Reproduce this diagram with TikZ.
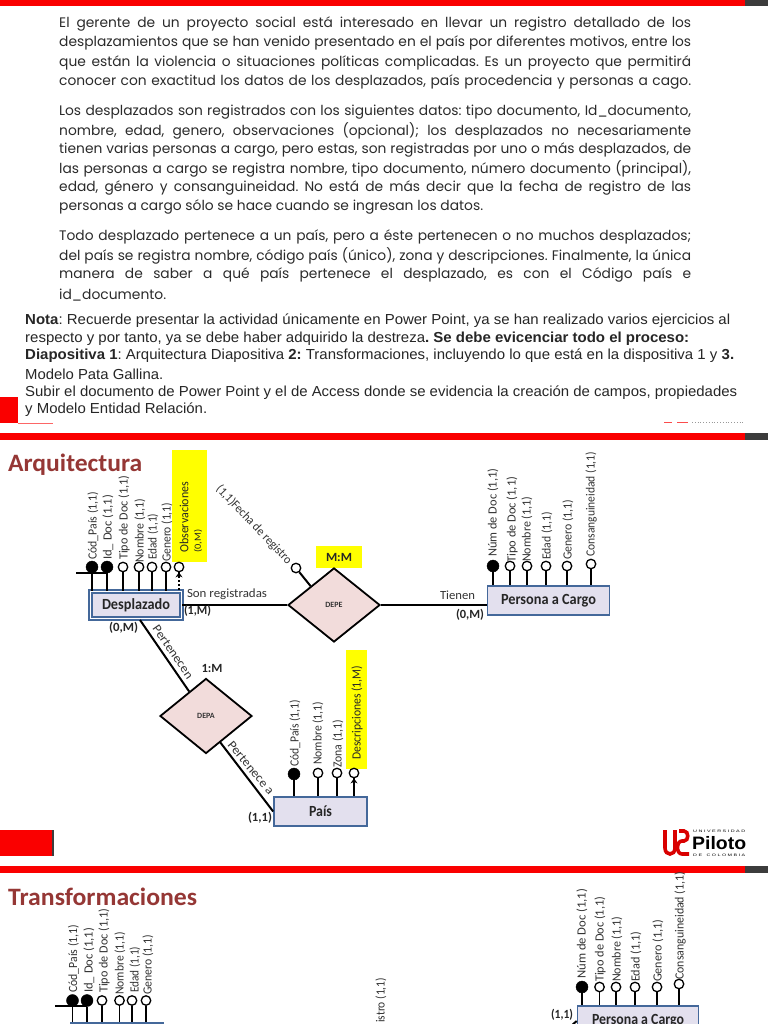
\documentclass[tikz,border=0pt]{standalone}
\usepackage{graphicx}
\usepackage{fontspec}
\setmainfont{Carlito}
\newfontfamily\gothicf{Poppins}
\newfontfamily\arialf{Liberation Sans}
\usetikzlibrary{shapes.geometric,arrows.meta}
\definecolor{barred}{HTML}{FA0000}
\definecolor{bardark}{HTML}{3C3C3C}
\definecolor{ink}{HTML}{2B2B2B}
\definecolor{title}{HTML}{953735}
\definecolor{boxfill}{HTML}{E3E0EE}
\definecolor{boxline}{HTML}{44689A}
\definecolor{rel}{HTML}{F2DCDB}
\definecolor{yel}{HTML}{FFFF00}
\newcommand\fitw[2]{\resizebox{#1pt}{\height}{#2}}
\newsavebox\lbox
\newcommand\jl[1]{\sbox\lbox{#1}\ifdim\wd\lbox>632pt \resizebox{632pt}{\height}{\usebox\lbox}\else\makebox[632pt][s]{#1}\fi}
\tikzset{
  barfill/.style={fill=barred,draw=none},
  bardk/.style={fill=bardark,draw=none},
  para/.style={anchor=west,inner sep=0pt,font=\gothicf\fontsize{13.8}{15}\selectfont\frenchspacing,text=ink},
  notaline/.style={anchor=west,inner sep=0pt,font=\arialf\fontsize{14.5}{16}\selectfont\frenchspacing,text=black!85},
  slidetitle/.style={anchor=west,inner sep=0pt,font=\bfseries\fontsize{25}{28}\selectfont,text=title},
  lab/.style={rotate=90,anchor=west,inner sep=0pt,font=\fontsize{12.5}{14}\selectfont,text=black!80},
  opn/.style={circle,draw=black,fill=white,line width=1.3pt,minimum size=9.5pt,inner sep=0pt},
  key/.style={circle,draw=black,fill=black,minimum size=12pt,inner sep=0pt},
  stem/.style={line width=1.9pt,black},
  conn/.style={line width=2pt,black},
  ent/.style={rectangle,draw=boxline,fill=boxfill,line width=1.6pt,inner sep=0pt,font=\bfseries\fontsize{15.5}{17}\selectfont,text=black!85},
  entd/.style={ent,line width=1.7pt,double=white,double distance=1pt},
  relat/.style={diamond,draw=black,fill=rel,line width=1.8pt,inner sep=0pt,aspect=1.24,font=\bfseries\fontsize{8}{9}\selectfont,text=black!80},
  card/.style={inner sep=0pt,font=\bfseries\fontsize{12.5}{14}\selectfont,text=black!85},
  verb/.style={inner sep=0pt,font=\fontsize{12.5}{14}\selectfont,text=black!80},
  logoink/.style={red!85!black,line width=3.6pt},
  tiptop/.style={{Stealth[length=5pt,width=7pt]}-,line width=1.2pt,black},
}
\begin{document}
\begin{tikzpicture}[x=1pt,y=-1pt]
\useasboundingbox (0,0) rectangle (768,1024);
\fill[white] (0,0) rectangle (768,1024);
\clip (0,0) rectangle (768,1024);

% bars
\fill[barfill] (0,0) rectangle (745,6.5);
\fill[bardk] (745,0) rectangle (768,6.5);
\fill[barfill] (0,433) rectangle (745,439.5);
\fill[bardk] (745,433) rectangle (768,439.5);
\fill[barfill] (0,866) rectangle (745,872.5);
\fill[bardk] (745,866) rectangle (768,872.5);
\fill[barfill] (0,397) rectangle (18,423);
\draw[barred!60,line width=.6pt] (18,423) -- (53,423);
\draw[barred!70,line width=1pt] (664,422) -- (672,422) (677,422) -- (688,422);
\draw[black!40,line width=.8pt,dotted] (692,422) -- (745,422);
\fill[barfill] (0,830) rectangle (52,856);
\fill[bardk] (52,830) rectangle (54,856);

% statement
\node[para] (p1) at (59,24) {\jl{El gerente de un proyecto social está interesado en llevar un registro detallado de los}};
\node[para] (p2) at (59,43) {\jl{desplazamientos que se han venido presentado en el país por diferentes motivos, entre los}};
\node[para] (p3) at (59,63) {\jl{que están la violencia o situaciones políticas complicadas. Es un proyecto que permitirá}};
\node[para] (p4) at (59,82) {\jl{conocer con exactitud los datos de los desplazados, país procedencia y personas a cago.}};
\node[para] (p5) at (59,112) {\jl{Los desplazados son registrados con los siguientes datos: tipo documento, Id\_documento,}};
\node[para] (p6) at (59,131) {\jl{nombre, edad, genero, observaciones (opcional); los desplazados no necesariamente}};
\node[para] (p7) at (59,150) {\jl{tienen varias personas a cargo, pero estas, son registradas por uno o más desplazados, de}};
\node[para] (p8) at (59,169) {\jl{las personas a cargo se registra nombre, tipo documento, número documento (principal),}};
\node[para] (p9) at (59,188) {\jl{edad, género y consanguineidad. No está de más decir que la fecha de registro de las}};
\node[para] (p10) at (59,207) {\fitw{424}{personas a cargo sólo se hace cuando se ingresan los datos.}};
\node[para] (p11) at (59,237) {\jl{Todo desplazado pertenece a un país, pero a éste pertenecen o no muchos desplazados;}};
\node[para] (p12) at (59,256) {\jl{del país se registra nombre, código país (único), zona y descripciones. Finalmente, la única}};
\node[para] (p13) at (59,275) {\jl{manera de saber a qué país pertenece el desplazado, es con el Código país e}};
\node[para] (p14) at (59,295) {\fitw{107}{id\_documento.}};

\node[notaline] (n1) at (25,321) {\fitw{705}{\textbf{Nota}: Recuerde presentar la actividad únicamente en Power Point, ya se han realizado varios ejercicios al}};
\node[notaline] (n2) at (25,338.5) {\fitw{664}{respecto y por tanto, ya se debe haber adquirido la destreza\textbf{. Se debe evicenciar todo el proceso:}}};
\node[notaline] (n3) at (25,356) {\fitw{709}{\textbf{Diapositiva 1}: Arquitectura Diapositiva \textbf{2:} Transformaciones, incluyendo lo que está en la dispositiva 1 y \textbf{3.}}};
\node[notaline] (n4) at (25,374) {\fitw{138}{Modelo Pata Gallina.}};
\node[notaline] (n5) at (25,393) {\fitw{712}{Subir el documento de Power Point y el de Access donde se evidencia la creación de campos, propiedades}};
\node[notaline] (n6) at (25,410) {\fitw{182}{y Modelo Entidad Relación.}};

% ---------- Arquitectura
\node[slidetitle] (t1) at (8,465) {\fitw{134}{Arquitectura}};

\fill[yel] (172,450) rectangle (207,562);
\fill[yel] (316,546) rectangle (362,568);
\fill[yel] (346,650) rectangle (367,769);

\node[entd,minimum width=91pt,minimum height=27pt] (desp) at (136,605) {\fitw{68}{Desplazado}};
\node[ent,minimum width=122pt,minimum height=29pt] (per) at (548.5,600.5) {\fitw{95}{Persona a Cargo}};
\node[ent,minimum width=93pt,minimum height=29pt] (pais) at (320.5,811.5) {\fitw{23}{País}};
\node[relat,minimum width=92pt,minimum height=74pt] (depe) at (334,605) {DEPE};
\node[relat,minimum width=92pt,minimum height=75pt] (depa) at (206,716) {DEPA};

% Desplazado attributes
\node[key] (da1) at (92,567) {};
\node[key] (da2) at (107,567) {};
\node[opn] (da3) at (123,567) {};
\node[opn] (da4) at (139,567) {};
\node[opn] (da5) at (152,567) {};
\node[opn] (da6) at (166,567) {};
\node[opn] (da7) at (179,567) {};
\foreach \a in {da1,da2,da3,da4,da5,da6}{\draw[stem] (\a) -- (\a |- desp.north);}
\draw[line width=1.9pt,black,dotted] (da7) -- (da7 |- desp.north);
\coordinate (da7t) at (179,577);
\draw[tiptop] (da7) -- (da7t);
\coordinate (bar1) at (76,573);
\draw[stem] (bar1) -- (bar1 -| da2);
\node[lab] (dl1) at (93,560) {\fitw{68}{Cód\_País (1,1)}};
\node[lab] (dl2) at (108,560) {\fitw{65}{Id\_ Doc (1,1)}};
\node[lab] (dl3) at (124,560) {\fitw{84}{Tipo de Doc (1,1)}};
\node[lab] (dl4) at (140,563) {\fitw{64}{Nombre (1,1)}};
\node[lab] (dl5) at (153,560) {\fitw{46}{Edad (1,1)}};
\node[lab] (dl6) at (167,562) {\fitw{59}{Genero (1,1)}};
\node[lab,text=black!85] (dl7) at (184,553) {\fitw{71}{Observaciones}};
\node[lab,text=black!85,font=\fontsize{9.5}{11}\selectfont] (dl8) at (198,553) {\fitw{23}{(0,M)}};

% Persona attributes
\node[key] (pa1) at (493,566) {};
\node[opn] (pa2) at (510,566) {};
\node[opn] (pa3) at (527,566) {};
\node[opn] (pa4) at (546,566) {};
\node[opn] (pa5) at (567,566) {};
\node[opn] (pa6) at (591,564) {};
\foreach \a in {pa1,pa2,pa3,pa4,pa5,pa6}{\draw[stem] (\a) -- (\a |- per.north);}
\node[lab] (pl1) at (493,557) {\fitw{88}{Núm de Doc (1,1)}};
\node[lab] (pl2) at (512,563) {\fitw{86}{Tipo de Doc (1,1)}};
\node[lab] (pl3) at (527,562) {\fitw{65}{Nombre (1,1)}};
\node[lab] (pl4) at (547,560) {\fitw{48}{Edad (1,1)}};
\node[lab] (pl5) at (568,560) {\fitw{60}{Genero (1,1)}};
\node[lab] (pl6) at (591,557) {\fitw{105}{Consanguineidad (1,1)}};

% Pais attributes
\node[key] (ca1) at (294,774) {};
\node[opn] (ca2) at (318,773) {};
\node[opn] (ca3) at (337,773) {};
\node[opn] (ca4) at (354,773) {};
\foreach \a in {ca1,ca2,ca3,ca4}{\draw[stem] (\a) -- (\a |- pais.north);}
\coordinate (ca4t) at (354,784);
\draw[tiptop] (ca4) -- (ca4t);
\node[lab] (cl1) at (295,767) {\fitw{67}{Cód\_País (1,1)}};
\node[lab] (cl2) at (318,765) {\fitw{63}{Nombre (1,1)}};
\node[lab] (cl3) at (338,768) {\fitw{48}{Zona (1,1)}};
\node[lab,text=black!85] (cl4) at (357,760) {\fitw{94}{Descripciones (1,M)}};

% relationships
\node[opn] (cf) at (296,568) {};
\draw[conn] (cf) -- (depe.north west);
\node[verb,rotate=-46.5] (lf) at (254,525) {\fitw{104}{(1,1)Fecha de registro}};
\draw[conn] (desp.east) -- (depe.west);
\draw[conn] (depe.east) -- (depe.east -| per.west);
\coordinate (dsp) at (140,620);
\draw[conn] (dsp) -- (depa);
\coordinate (dpo) at (220,742);
\draw[conn] (dpo) -- (pais.west);

\node[verb] (v1) at (227,594.5) {\fitw{80}{Son registradas}};
\node[card] (c1) at (197.5,611) {\fitw{27}{(1,M)}};
\node[verb] (v2) at (457.5,595) {\fitw{35}{Tienen}};
\node[card] (c2) at (470,615) {\fitw{28}{(0,M)}};
\node[card] (c3) at (123.5,628) {\fitw{29}{(0,M)}};
\node[card] (c4) at (260,818) {\fitw{24}{(1,1)}};
\node[card] (mm) at (339,557) {\fitw{26}{M:M}};
\node[card] (om) at (212,668) {\fitw{21}{1:M}};
\node[verb,rotate=-55.5] (v3) at (173,652) {\fitw{62}{Pertenecen}};
\node[verb,rotate=-50] (v4) at (251,768) {\fitw{65}{Pertenece a}};

% logo
\draw[logoink] (665,830) -- (665,848) .. controls (665,856) and (675,856) .. (675,848) -- (675,830);
\draw[logoink] (679,831) -- (684,831) .. controls (689,831) and (689,841) .. (684,841) -- (682,841) .. controls (676,841) and (676,854) .. (682,854) -- (689,854);
\node[anchor=west,inner sep=0pt,font=\arialf\bfseries\fontsize{18}{20}\selectfont] (logo) at (692,843.5) {\fitw{54}{Piloto}};
\node[anchor=west,inner sep=0pt,font=\arialf\fontsize{3.5}{4}\selectfont] (logoa) at (693,831) {\fitw{52}{U N I V E R S I D A D}};
\node[anchor=west,inner sep=0pt,font=\arialf\fontsize{3.5}{4}\selectfont] (logob) at (693,855) {\fitw{52}{D E \ \ C O L O M B I A}};

% ---------- Transformaciones
\node[slidetitle] (t2) at (8,897) {\fitw{189}{Transformaciones}};

\node[ent,minimum width=92pt,minimum height=34pt] (desp2) at (117,1040) {};
\node[ent,minimum width=121pt,minimum height=30pt] (per2) at (638,1021) {\fitw{92}{Persona a Cargo}};

\node[key] (ea1) at (72.5,1000.5) {};
\node[key] (ea2) at (87,1000.5) {};
\node[opn] (ea3) at (102,1000.5) {};
\node[opn] (ea4) at (119.5,1000.5) {};
\node[opn] (ea5) at (132,1000.5) {};
\node[opn] (ea6) at (146,1000.5) {};
\foreach \a in {ea1,ea2,ea3,ea4,ea5,ea6}{\draw[stem] (\a) -- (\a |- desp2.north);}
\coordinate (bar2) at (55,1006);
\draw[stem] (bar2) -- (bar2 -| ea2);
\node[lab] (el1) at (73.5,993) {\fitw{68}{Cód\_País (1,1)}};
\node[lab] (el2) at (89,993) {\fitw{65}{Id\_ Doc (1,1)}};
\node[lab] (el3) at (104,993) {\fitw{84}{Tipo de Doc (1,1)}};
\node[lab] (el4) at (120,995) {\fitw{63}{Nombre (1,1)}};
\node[lab] (el5) at (135,993) {\fitw{46}{Edad (1,1)}};
\node[lab] (el6) at (148,995) {\fitw{60}{Genero (1,1)}};

\node[lab] (fr) at (381,1023) {\fitw{45}{istro (1,1)}};

\node[key] (fa1) at (582,987) {};
\node[opn] (fa2) at (599.5,987) {};
\node[opn] (fa3) at (616,987) {};
\node[opn] (fa4) at (635,987) {};
\node[opn] (fa5) at (657,987) {};
\node[opn] (fa6) at (679,984) {};
\foreach \a in {fa1,fa2,fa3,fa4,fa5,fa6}{\draw[stem] (\a) -- (\a |- per2.north);}
\node[lab] (fl1) at (582,979) {\fitw{90}{Núm de Doc (1,1)}};
\node[lab] (fl2) at (600,982) {\fitw{85}{Tipo de Doc (1,1)}};
\node[lab] (fl3) at (617,982) {\fitw{65}{Nombre (1,1)}};
\node[lab] (fl4) at (636,982) {\fitw{50}{Edad (1,1)}};
\node[lab] (fl5) at (658,982) {\fitw{62}{Genero (1,1)}};
\node[lab] (fl6) at (680,980) {\fitw{108}{Consanguineidad (1,1)}};
\node[card] (c5) at (562,1015) {\fitw{22}{(1,1)}};
\coordinate (fout) at (571,1026);
\draw[conn] (fout) -- (per2.west);
\end{tikzpicture}
\end{document}
